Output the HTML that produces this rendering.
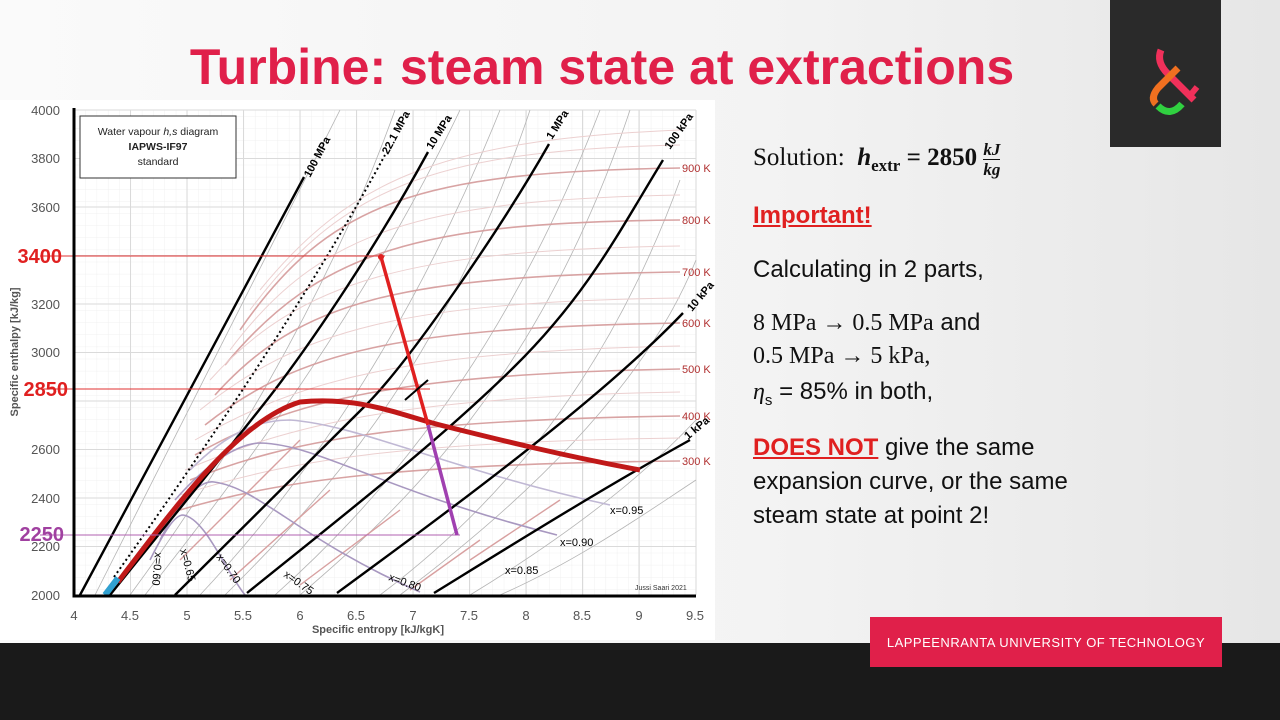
<!DOCTYPE html>
<html><head><meta charset="utf-8"><style>
body{margin:0;width:1280px;height:720px;overflow:hidden;background:linear-gradient(90deg,#fafafa,#f3f3f3 60%,#e6e6e6);font-family:"Liberation Sans",sans-serif;position:relative}
.t{position:absolute;left:0;width:1204px;top:38px;text-align:center;font-size:50px;font-weight:bold;color:#e0204a}
.bar{position:absolute;left:0;top:643px;width:1280px;height:77px;background:#1a1a1a}
.logo{position:absolute;left:1110px;top:0;width:111px;height:147px;background:#2a2a2a}
.ban{position:absolute;left:870px;top:617px;width:352px;height:50px;background:#e0204a;color:#fff;font-size:13px;line-height:52px;text-align:center;letter-spacing:0.5px}
.tx{position:absolute;left:753px;font-size:24px;color:#111}
.sr{font-family:"Liberation Serif",serif}
.red{color:#e02020;font-weight:bold;text-decoration:underline}
</style></head><body>
<div class="t">Turbine: steam state at extractions</div>
<div class="logo"><svg width="111" height="147"><path d="M51 50 Q46 62 58 74 L84 100" stroke="#f0305a" stroke-width="7" fill="none"/><path d="M68 68 L48 88 Q40 98 46 104" stroke="#f07020" stroke-width="7" fill="none"/><path d="M48 106 Q60 118 72 104" stroke="#30d040" stroke-width="7" fill="none"/><path d="M87 87 L78 98" stroke="#f0305a" stroke-width="6"/></svg></div>
<svg style="position:absolute;left:0;top:100px" width="715" height="540">
<defs>
<pattern id="g" x="74" y="-5" width="11.31" height="12.125" patternUnits="userSpaceOnUse"><path d="M0 0H11.31M0 0V12.125" stroke="#f0f0f0" stroke-width="1" fill="none"/></pattern>
</defs>
<rect width="715" height="540" fill="#fff"/>
<g transform="translate(0,-100)">
<rect x="74" y="110" width="622" height="485" fill="url(#g)"/>
<g stroke="#dadada" stroke-width="1">
<path d="M130.5 110V595M187 110V595M243.5 110V595M300 110V595M356.5 110V595M413 110V595M469.5 110V595M526 110V595M582.5 110V595M639 110V595M696 110V595"/>
<path d="M74 158.5H696M74 207H696M74 255.5H696M74 304H696M74 352.5H696M74 401H696M74 449.5H696M74 498H696M74 546.5H696M74 110H696"/>
</g>
<g stroke="#b4b4b4" stroke-width="0.8" fill="none">
<path d="M95 595L340 110"/>
<path d="M130 595C200 500 320 320 395 110"/>
<path d="M145 595C220 500 360 320 460 110"/>
<path d="M200 595C280 510 400 360 500 110"/>
<path d="M225 595C310 510 440 380 530 110"/>
<path d="M275 595C370 510 500 370 600 110"/>
<path d="M300 595C400 510 540 380 630 110"/>
<path d="M380 595C480 520 600 400 680 180"/>
<path d="M400 595C500 520 640 400 696 260"/>
<path d="M470 595C560 540 640 480 696 420"/>
<path d="M500 595C580 560 650 510 696 480"/>
</g>
<g stroke="#d49a9a" stroke-width="1.6" fill="none" opacity="0.9">
<path d="M240 330C330 200 420 172 680 168"/>
<path d="M225 365C320 250 420 222 680 220"/>
<path d="M215 395C300 300 400 276 680 272"/>
<path d="M205 425C300 350 400 328 680 323"/>
<path d="M195 455C290 400 400 374 680 369"/>
<path d="M190 480C290 440 400 420 680 416"/>
<path d="M180 510C280 480 400 464 680 461"/>
</g>
<g stroke="#ecd0d0" stroke-width="1" fill="none">
<path d="M250 310C340 190 430 150 680 145M260 290C350 180 440 140 680 130M230 350C320 230 420 200 680 195M210 380C300 280 410 250 680 246M200 410C300 330 400 302 680 298M195 440C300 380 400 352 680 346M185 470C290 425 400 397 680 392M180 495C290 460 400 442 680 438"/>
</g>
<g stroke="#d8a0a0" stroke-width="1.4" fill="none">
<path d="M180 560L300 440M230 580L330 490M300 585L400 510M410 590L480 540M470 560L560 500"/>
</g>
<g stroke="#a898c0" stroke-width="1.6" fill="none">
<path d="M160 540C180 500 200 480 214 482C260 488 300 540 420 592"/>
<path d="M175 500C210 460 240 443 261 443C320 445 380 490 557 535"/>
<path d="M190 470C230 430 260 420 290 420C360 425 450 470 610 505" stroke="#c0b8d4"/>
<path d="M150 560C165 530 175 515 183 515C205 518 225 570 245 595"/>
</g>
<g stroke="#000" stroke-width="2.4" fill="none">
<path d="M80 595L304 177"/>
<path d="M110 595C170 520 220 460 267 400S380 240 428 152"/>
<path d="M175 595C260 510 320 450 364 407S500 230 549 144"/>
<path d="M247 593C350 510 440 440 514 367S620 230 663 160"/>
<path d="M337 593C450 510 600 400 683 313"/>
<path d="M434 593C520 540 600 490 690 440"/>
</g>
<path d="M114 577Q290 330 385 155" stroke="#000" stroke-width="2" stroke-dasharray="2 3" fill="none"/>
<path d="M118 582C180 500 240 420 300 402C360 396 400 415 440 425C500 440 560 455 640 470" stroke="#c01818" stroke-width="5" fill="none"/>
<path d="M105 595L118 578" stroke="#30a0d0" stroke-width="6"/>
<path d="M40 256H385M40 389H430" stroke="#e03030" stroke-width="1"/>
<path d="M40 535H460" stroke="#b060b0" stroke-width="1"/>
<path d="M381 257L428 425" stroke="#e02020" stroke-width="3.5"/>
<path d="M428 425L457 535" stroke="#a040b0" stroke-width="3.5"/>
<circle cx="381" cy="257" r="3" fill="#e02020"/>
<path d="M405 400L428 380" stroke="#000" stroke-width="2"/>
<path d="M74 108V596H696" stroke="#000" stroke-width="3" fill="none"/>
<rect x="80" y="116" width="156" height="62" fill="#fff" stroke="#333"/>
<g font-size="10.5" text-anchor="middle" fill="#222"><text x="158" y="135">Water vapour <tspan font-style="italic">h,s</tspan> diagram</text><text x="158" y="150" font-weight="bold">IAPWS-IF97</text><text x="158" y="165">standard</text></g>
<g font-size="13" fill="#555" text-anchor="end"><text x="60" y="115">4000</text><text x="60" y="163">3800</text><text x="60" y="212">3600</text><text x="60" y="309">3200</text><text x="60" y="357">3000</text><text x="60" y="454">2600</text><text x="60" y="503">2400</text><text x="60" y="551">2200</text><text x="60" y="600">2000</text></g>
<g font-size="20" font-weight="bold" text-anchor="end"><text x="62" y="263" fill="#e02020">3400</text><text x="68" y="396" fill="#e02020">2850</text><text x="64" y="541" fill="#a040a0">2250</text></g>
<g font-size="13" fill="#555" text-anchor="middle"><text x="74" y="620">4</text><text x="130" y="620">4.5</text><text x="187" y="620">5</text><text x="243" y="620">5.5</text><text x="300" y="620">6</text><text x="356" y="620">6.5</text><text x="413" y="620">7</text><text x="469" y="620">7.5</text><text x="526" y="620">8</text><text x="582" y="620">8.5</text><text x="639" y="620">9</text><text x="695" y="620">9.5</text></g>
<text x="378" y="633" font-size="11" font-weight="bold" fill="#555" text-anchor="middle">Specific entropy [kJ/kgK]</text>
<text transform="translate(18,352) rotate(-90)" font-size="11" font-weight="bold" fill="#555" text-anchor="middle">Specific enthalpy [kJ/kg]</text>
<g font-size="11" fill="#b03030"><text x="682" y="172">900 K</text><text x="682" y="224">800 K</text><text x="682" y="276">700 K</text><text x="682" y="327">600 K</text><text x="682" y="373">500 K</text><text x="682" y="420">400 K</text><text x="682" y="465">300 K</text></g>
<g font-size="11" font-weight="bold"><text transform="translate(310,178) rotate(-62)">100 MPa</text><text transform="translate(388,155) rotate(-62)">22.1 MPa</text><text transform="translate(432,150) rotate(-58)">10 MPa</text><text transform="translate(552,140) rotate(-58)">1 MPa</text><text transform="translate(670,150) rotate(-55)">100 kPa</text><text transform="translate(692,312) rotate(-50)">10 kPa</text><text transform="translate(688,440) rotate(-40)">1 kPa</text></g>
<g font-size="11"><text x="610" y="514">x=0.95</text><text x="560" y="546">x=0.90</text><text x="505" y="574">x=0.85</text><text transform="translate(388,580) rotate(20)">x=0.80</text><text transform="translate(283,576) rotate(35)">x=0.75</text><text transform="translate(216,557) rotate(55)">x=0.70</text><text transform="translate(180,550) rotate(75)">x=0.65</text><text transform="translate(155,552) rotate(95)">x=0.60</text></g>
<text x="635" y="590" font-size="7" fill="#333">Jussi Saari 2021</text>
</g></svg>
<div class="tx sr" style="top:140px;font-size:25px">Solution:&nbsp; <b><i>h</i><sub style="font-size:17px">extr</sub> = 2850</b> <span style="display:inline-block;vertical-align:middle;text-align:center;font-size:17px;font-weight:bold;font-style:italic;line-height:19px"><span style="border-bottom:1px solid #111;display:block">kJ</span>kg</span></div>
<div class="tx red" style="top:202px">Important!</div>
<div class="tx" style="top:256px">Calculating in 2 parts,</div>
<div class="tx" style="top:309px"><span class="sr">8 MPa → 0.5 MPa</span> and</div>
<div class="tx sr" style="top:343px">0.5 MPa → 5 kPa,</div>
<div class="tx" style="top:378px"><i class="sr">η</i><sub style="font-size:15px">s</sub> = 85% in both,</div>
<div class="tx" style="top:431px;line-height:34px"><span class="red">DOES NOT</span> give the same<br>expansion curve, or the same<br>steam state at point 2!</div>
<div class="bar"></div>
<div class="ban">LAPPEENRANTA UNIVERSITY OF TECHNOLOGY</div>
</body></html>
